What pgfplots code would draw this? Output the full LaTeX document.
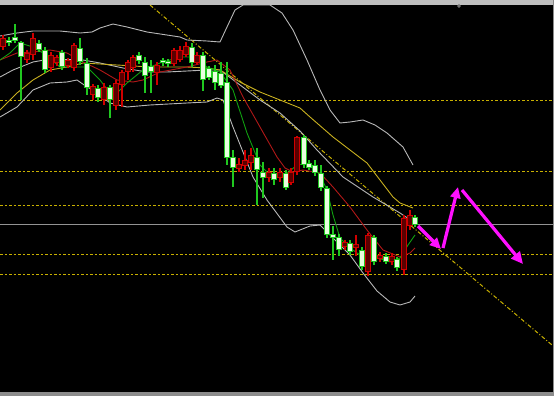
\documentclass[border=0pt]{standalone}
\usepackage{pgfplots}
\pgfplotsset{compat=1.18}
\usetikzlibrary{arrows.meta}
\definecolor{lvl}{HTML}{C8B000}
\definecolor{band}{HTML}{B8B8B8}
\definecolor{gw}{HTML}{20C820}
\definecolor{gb}{HTML}{E8FFE0}
\definecolor{rw}{HTML}{D00000}
\definecolor{rb}{HTML}{5A0000}
\definecolor{maR}{HTML}{B01818}
\definecolor{maG}{HTML}{10A010}
\definecolor{maY}{HTML}{C8B020}
\definecolor{mag}{HTML}{FF10FF}
\pgfplotsset{
  Gwick/.style={draw=gw, line width=1.1pt},
  Gout/.style={draw=gw, line width=5.5pt},
  Gin/.style={draw=gb, line width=3.3pt, shorten >=1pt, shorten <=1pt},
  Rwick/.style={draw=rw, line width=1.1pt},
  Rout/.style={draw=rw, line width=5.5pt},
  Rin/.style={draw=rb, line width=3.3pt, shorten >=1pt, shorten <=1pt},
}
% x, body top, body bottom, high, low, colour (G/R)  -- pixel coordinates
\newcommand{\candle}[6]{%
  \addplot[#6wick] coordinates {(#1,#4) (#1,#5)};
  \addplot[#6out] coordinates {(#1,#2) (#1,#3)};
  \addplot[#6in] coordinates {(#1,#2) (#1,#3)};
}
\begin{document}
\begin{tikzpicture}
\begin{axis}[
  scale only axis, width=554pt, height=396pt,
  xmin=0, xmax=554, ymin=0, ymax=396, y dir=reverse,
  axis line style={draw=none}, ticks=none, no markers,
]
% background
\addplot[fill=black, draw=none] coordinates {(0,0) (554,0) (554,396) (0,396)} --cycle;
% horizontal levels
\addplot[lvl, line width=1pt, dash pattern=on 2.5pt off 2pt] coordinates {(0,100) (554,100)};
\addplot[lvl, line width=1pt, dash pattern=on 2.5pt off 2pt] coordinates {(0,171) (554,171)};
\addplot[lvl, line width=1pt, dash pattern=on 2.5pt off 2pt] coordinates {(0,205) (554,205)};
\addplot[lvl, line width=1pt, dash pattern=on 2.5pt off 2pt] coordinates {(0,254) (554,254)};
\addplot[lvl, line width=1pt, dash pattern=on 2.5pt off 2pt] coordinates {(0,274) (554,274)};
\addplot[band!80!black, line width=1pt] coordinates {(0,224) (554,224)};
% trend line
\addplot[lvl, line width=1pt, dash pattern=on 4pt off 2pt on 1pt off 2pt] coordinates {(150,5) (552,345)};
% Bollinger bands
\addplot[band, line width=0.9pt] coordinates {(0,36) (17,33) (33,31) (60,31) (80,33) (92,32) (100,28) (113,24) (127,27) (147,32) (180,37) (187,40) (207,41) (220,42) (227,27) (235,10) (243,5) (270,5) (282,13) (293,30) (307,60) (320,90) (330,110) (340,123) (350,122) (363,120) (375,125) (387,133) (403,147) (413,165)};
\addplot[band, line width=0.9pt] coordinates {(0,77) (13,70) (33,62) (50,59) (83,60) (100,63) (123,68) (147,72) (167,72) (187,71) (207,70) (220,70) (240,85) (260,100) (280,113) (300,131) (317,150) (343,177) (373,197) (400,213) (415,223)};
\addplot[band, line width=0.9pt] coordinates {(0,117) (17,107) (33,90) (50,83) (67,82) (77,80) (87,87) (93,90) (110,103) (127,107) (150,105) (187,103) (207,102) (217,98) (223,100) (233,127) (253,177) (267,200) (287,227) (295,232) (310,226) (320,225) (325,230) (337,242) (350,255) (363,273) (377,291) (390,302) (400,305) (410,302) (415,296)};
% moving averages
\addplot[maY, line width=0.9pt] coordinates {(0,110) (17,93) (33,80) (50,70) (67,67) (83,63) (117,65) (150,67) (187,67) (207,68) (220,70) (240,82) (260,92) (280,100) (300,108) (310,117) (333,137) (367,163) (393,197) (400,203) (413,208)};
\addplot[maR, line width=0.9pt] coordinates {(0,60) (17,53) (33,52) (50,50) (67,53) (83,62) (100,70) (117,80) (133,82) (143,80) (160,72) (187,67) (207,62) (217,60) (230,70) (243,97) (260,127) (277,157) (285,168) (293,172) (303,170) (320,173) (333,187) (350,207) (367,230) (383,250) (400,257) (410,253) (415,248)};
\addplot[maG, line width=0.9pt] coordinates {(0,60) (10,53) (20,43) (33,47) (43,53) (60,67) (77,67) (87,67) (100,80) (113,97) (127,83) (143,70) (160,63) (180,57) (193,57) (207,67) (220,72) (233,90) (247,133) (260,165) (270,175) (285,175) (297,165) (310,163) (320,175) (327,190) (333,215) (340,238) (350,248) (360,255) (375,257) (390,262) (400,258) (408,245) (415,235)};
% candles
\candle{3}{38}{47}{35}{50}{R}
\candle{9}{40}{43}{37}{46}{G}
\candle{15}{37}{41}{24}{43}{G}
\candle{21}{42}{57}{41}{100}{G}
\candle{27}{53}{60}{50}{63}{R}
\candle{33}{38}{55}{33}{60}{R}
\candle{39}{43}{50}{40}{52}{G}
\candle{45}{50}{70}{47}{73}{G}
\candle{51}{55}{68}{52}{72}{R}
\candle{57}{57}{63}{55}{66}{R}
\candle{62}{52}{67}{50}{70}{G}
\candle{68}{60}{66}{58}{68}{R}
\candle{74}{45}{68}{43}{71}{R}
\candle{80}{48}{62}{38}{65}{G}
\candle{87}{63}{88}{58}{95}{G}
\candle{93}{86}{95}{84}{100}{R}
\candle{98}{88}{98}{85}{102}{G}
\candle{104}{87}{100}{83}{105}{R}
\candle{110}{87}{100}{85}{118}{G}
\candle{116}{83}{106}{80}{110}{R}
\candle{122}{72}{85}{70}{107}{R}
\candle{128}{62}{72}{60}{80}{R}
\candle{133}{57}{68}{55}{72}{R}
\candle{139}{55}{61}{52}{64}{G}
\candle{145}{62}{76}{57}{93}{G}
\candle{151}{66}{72}{60}{93}{G}
\candle{157}{65}{73}{62}{85}{R}
\candle{163}{60}{63}{58}{66}{G}
\candle{168}{61}{64}{59}{67}{G}
\candle{174}{50}{64}{48}{66}{R}
\candle{180}{50}{60}{46}{62}{R}
\candle{186}{46}{55}{42}{57}{R}
\candle{192}{47}{63}{43}{67}{G}
\candle{197}{55}{63}{52}{65}{R}
\candle{203}{55}{80}{52}{91}{G}
\candle{209}{68}{78}{66}{80}{G}
\candle{215}{71}{83}{65}{90}{G}
\candle{221}{73}{86}{62}{88}{G}
\candle{227}{82}{158}{62}{165}{G}
\candle{233}{157}{168}{150}{187}{G}
\candle{239}{164}{169}{158}{172}{R}
\candle{245}{160}{166}{150}{170}{R}
\candle{251}{155}{163}{148}{170}{R}
\candle{257}{157}{170}{148}{205}{G}
\candle{263}{172}{178}{162}{198}{G}
\candle{269}{172}{178}{168}{182}{R}
\candle{274}{173}{180}{168}{185}{G}
\candle{280}{172}{178}{168}{182}{R}
\candle{286}{173}{188}{170}{190}{G}
\candle{291}{172}{183}{168}{185}{R}
\candle{297}{137}{172}{136}{175}{R}
\candle{304}{137}{165}{135}{168}{G}
\candle{309}{163}{168}{160}{170}{G}
\candle{315}{165}{173}{160}{176}{G}
\candle{321}{173}{188}{165}{191}{G}
\candle{327}{188}{235}{186}{238}{G}
\candle{333}{234}{238}{226}{260}{G}
\candle{339}{237}{250}{234}{256}{G}
\candle{345}{242}{247}{240}{250}{R}
\candle{350}{243}{252}{240}{255}{G}
\candle{356}{244}{248}{235}{256}{R}
\candle{362}{250}{267}{247}{270}{G}
\candle{368}{235}{272}{233}{276}{R}
\candle{374}{237}{262}{235}{265}{G}
\candle{380}{255}{259}{252}{262}{R}
\candle{386}{256}{262}{253}{264}{G}
\candle{392}{256}{262}{253}{265}{R}
\candle{397}{259}{268}{257}{271}{G}
\candle{404}{218}{270}{215}{275}{R}
\candle{410}{215}{226}{210}{230}{R}
\candle{415}{217}{225}{215}{227}{G}
% magenta arrows
\addplot[mag, line width=3.2pt, -{Triangle[length=11pt, width=10pt]}] coordinates {(418,226) (441,249)};
\addplot[mag, line width=3.2pt, -{Triangle[length=11pt, width=10pt]}] coordinates {(443,248) (458,187)};
\addplot[mag, line width=3.2pt, -{Triangle[length=12pt, width=11pt]}] coordinates {(462,190) (523,264)};
% frame bands
\addplot[fill=black!25, draw=none] coordinates {(0,0) (554,0) (554,5) (0,5)} --cycle;
\addplot[fill=black!45, draw=none] coordinates {(0,392) (554,392) (554,396) (0,396)} --cycle;
\addplot[black!45, line width=1pt] coordinates {(553,0) (553,396)};
\addplot[only marks, mark=triangle*, mark size=1.6pt, mark options={rotate=180, fill=black!55, draw=black!55}] coordinates {(459,6)};
\end{axis}
\end{tikzpicture}
\end{document}
